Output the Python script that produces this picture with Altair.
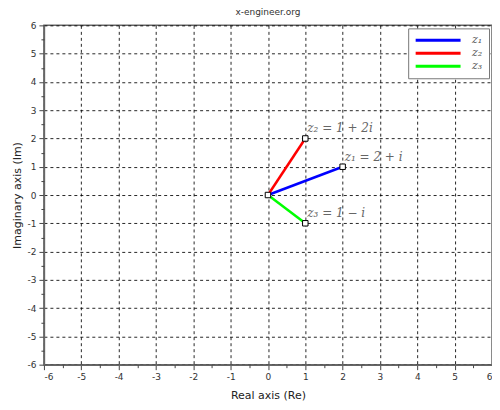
import altair as alt
import pandas as pd

# data
names = ["z₁", "z₂", "z₃"]
re_vals = [2, 1, 1]
im_vals = [1, 2, -1]
labels = ["z₁ = 2 + i", "z₂ = 1 + 2i", "z₃ = 1 − i"]
colors = ["#0000ff", "#ff0000", "#00ff00"]
major_ticks = list(range(-6, 7))
minor_ticks = [v + 0.5 for v in range(-6, 6)]

line_rows = []
for n, r, i in zip(names, re_vals, im_vals):
    line_rows.append({"z": n, "re": 0, "im": 0, "o": 0})
    line_rows.append({"z": n, "re": r, "im": i, "o": 1})
lines_df = pd.DataFrame(line_rows)
pts_df = pd.DataFrame({"re": [0] + re_vals, "im": [0] + im_vals})
lab_df = pd.DataFrame({"re": re_vals, "im": im_vals, "label": labels})

xs = alt.Scale(domain=[-6, 6], nice=False, zero=False)
ys = alt.Scale(domain=[-6, 6], nice=False, zero=False)

axis_common = dict(
    values=major_ticks, grid=True, gridColor="#000000", gridDash=[3, 3],
    gridOpacity=0.85, gridWidth=1, tickColor="#444444", tickSize=5,
    domainColor="#666666", domainWidth=1.5, labelFont="DejaVu Sans",
    labelFontSize=9, labelColor="#333333", titleFont="DejaVu Sans",
    titleFontSize=11, titleFontWeight="normal", titleColor="#222222",
    labelPadding=3,
    labelExpr="datum.value < 0 ? '-' + abs(datum.value) : '' + datum.value",
)

lines = alt.Chart(lines_df).mark_line(strokeWidth=2.5).encode(
    x=alt.X("re:Q", scale=xs, axis=alt.Axis(title="Real axis (Re)", orient="bottom", titlePadding=8, **axis_common)),
    y=alt.Y("im:Q", scale=ys, axis=alt.Axis(title="Imaginary axis (Im)", orient="left", titlePadding=5, **axis_common)),
    color=alt.Color("z:N", scale=alt.Scale(domain=names, range=colors),
                    legend=alt.Legend(title=None, orient="top-right", offset=3,
                                      symbolType="M-1,0H9", symbolSize=81,
                                      symbolStrokeWidth=3, labelFont="DejaVu Serif",
                                      labelFontStyle="italic", labelFontSize=11,
                                      labelColor="#555555", labelOffset=46,
                                      padding=6, rowPadding=1,
                                      fillColor="#ffffff", strokeColor="#777777")),
    order="o:Q",
)

minor_axis = dict(values=minor_ticks, grid=False, labels=False, domain=False,
                  tickColor="#444444", tickSize=3, title=None)
minor = alt.Chart(pts_df).mark_point(opacity=0).encode(
    x=alt.X("re:Q", scale=xs, axis=alt.Axis(orient="bottom", **minor_axis)),
    y=alt.Y("im:Q", scale=ys, axis=alt.Axis(orient="left", **minor_axis)),
)

pts = alt.Chart(pts_df).mark_point(shape="square", size=30, filled=True,
                                   fill="#ffffff", stroke="#000000",
                                   strokeWidth=1, opacity=1).encode(
    x=alt.X("re:Q", scale=xs, axis=None), y=alt.Y("im:Q", scale=ys, axis=None))

txt = alt.Chart(lab_df).mark_text(align="left", baseline="middle", dx=2, dy=-10,
                                  font="DejaVu Serif", fontStyle="italic",
                                  fontSize=12, color="#666666").encode(
    x=alt.X("re:Q", scale=xs, axis=None), y=alt.Y("im:Q", scale=ys, axis=None),
    text="label:N")

chart = alt.layer(lines, minor, pts, txt).resolve_axis(x="independent", y="independent").properties(
    width=449, height=340,
    padding={"left": 36, "top": 17, "right": 0, "bottom": 37},
    autosize=alt.AutoSizeParams(type="none"),
    title=alt.TitleParams("x-engineer.org", fontSize=9, font="DejaVu Sans",
                          fontWeight="normal", color="#333333", anchor="middle", offset=4),
).configure_view(stroke="#666666", strokeWidth=1.5)

chart.save("out.html", embed_options={"renderer": "svg", "actions": False})
